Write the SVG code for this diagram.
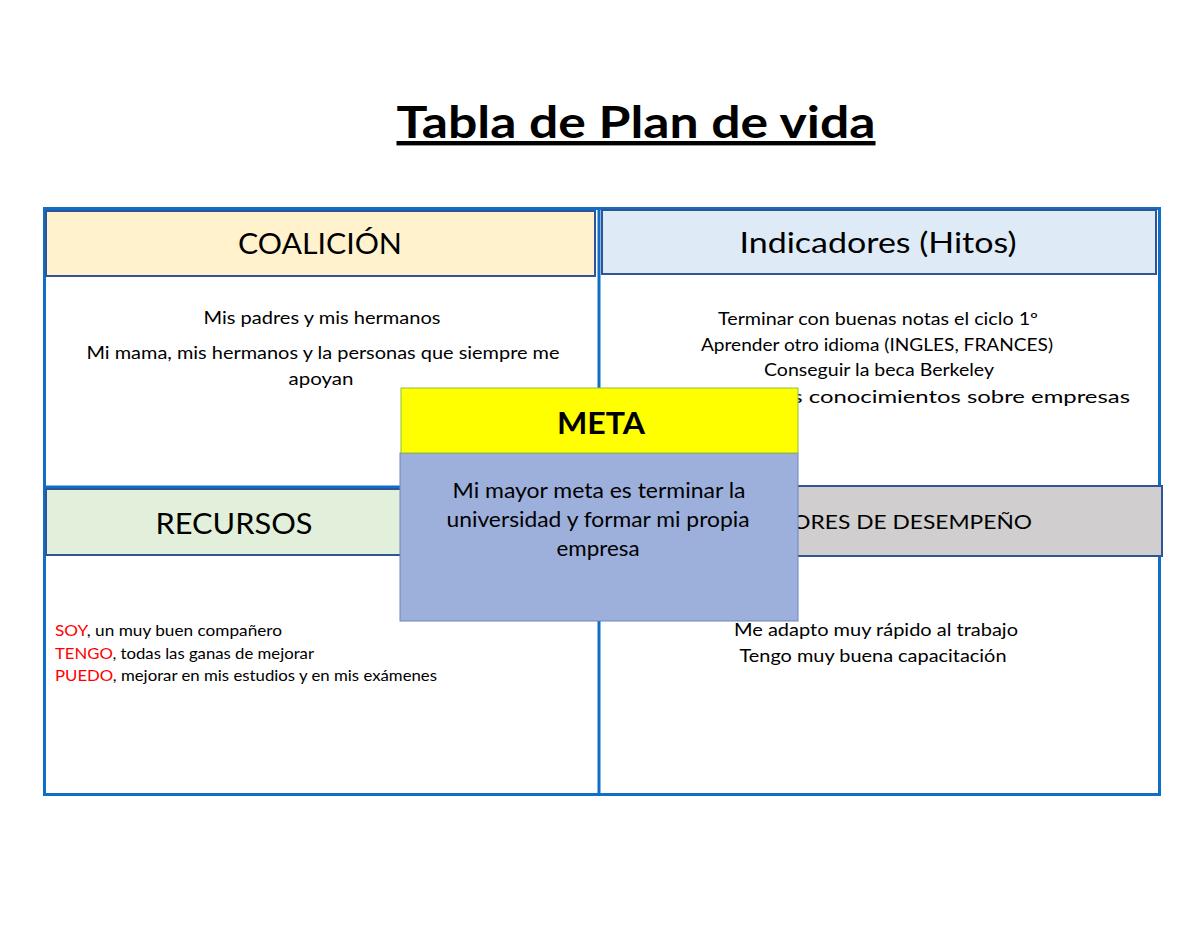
<svg xmlns="http://www.w3.org/2000/svg" width="1200" height="927" viewBox="0 0 1200 927">
<style>
text{font-family:Lato,"Noto Sans",sans-serif;fill:#000}
.h{font-size:28px;text-anchor:middle}
.b{font-size:17px;text-anchor:middle}
.s{font-size:16px}
.r{fill:#ff0000}
.hd{stroke:#2f5597;stroke-width:2}
</style>
<rect x="0" y="0" width="1200" height="927" fill="#fff"/>
<text x="636" y="138" textLength="479" lengthAdjust="spacingAndGlyphs" style="font-size:44px;font-weight:bold;text-anchor:middle;text-decoration:underline">Tabla de Plan de vida</text>
<g id="frame" fill="none" stroke="#0f6fc6" stroke-width="3">
<rect x="44.5" y="208.5" width="1115" height="586"/>
<line x1="599" y1="208" x2="599" y2="795"/>
<line x1="44" y1="487" x2="1160" y2="487"/>
</g>
<g id="coalicion">
<rect class="hd" x="46" y="211" width="549" height="65" fill="#fff2cc"/>
<text class="h" x="320" y="254" textLength="164" lengthAdjust="spacingAndGlyphs">COALICIÓN</text>
<text class="b" x="322" y="324" textLength="237" lengthAdjust="spacingAndGlyphs">Mis padres y mis hermanos</text>
<text class="b" x="323" y="359" textLength="473" lengthAdjust="spacingAndGlyphs">Mi mama, mis hermanos y la personas que siempre me</text>
<text class="b" x="321" y="385" textLength="65" lengthAdjust="spacingAndGlyphs">apoyan</text>
</g>
<g id="indicadores">
<rect class="hd" x="602" y="210" width="554" height="64" fill="#deebf7"/>
<text class="h" x="878" y="253" textLength="277" lengthAdjust="spacingAndGlyphs">Indicadores (Hitos)</text>
<text class="b" x="878" y="325" textLength="320" lengthAdjust="spacingAndGlyphs">Terminar con buenas notas el ciclo 1º</text>
<text class="b" x="877" y="351" textLength="352" lengthAdjust="spacingAndGlyphs">Aprender otro idioma (INGLES, FRANCES)</text>
<text class="b" x="879" y="376" textLength="230" lengthAdjust="spacingAndGlyphs">Conseguir la beca Berkeley</text>
<text class="b" x="877" y="403" textLength="506" lengthAdjust="spacingAndGlyphs">Aprender nuevos conocimientos sobre empresas</text>
</g>
<g id="recursos">
<rect class="hd" x="46" y="489" width="552" height="66" fill="#e2efda"/>
<text class="h" x="234" y="534" textLength="157" lengthAdjust="spacingAndGlyphs">RECURSOS</text>
<text class="s" x="55" y="636" textLength="227" lengthAdjust="spacingAndGlyphs"><tspan class="r">SOY</tspan>, un muy buen compañero</text>
<text class="s" x="55" y="659" textLength="259" lengthAdjust="spacingAndGlyphs"><tspan class="r">TENGO</tspan>, todas las ganas de mejorar</text>
<text class="s" x="55" y="681" textLength="382" lengthAdjust="spacingAndGlyphs"><tspan class="r">PUEDO</tspan>, mejorar en mis estudios y en mis exámenes</text>
</g>
<g id="desempeno">
<rect class="hd" x="600" y="486" width="562" height="70" fill="#d0cece"/>
<text x="1032" y="529" style="font-size:20px;text-anchor:end" textLength="335" lengthAdjust="spacingAndGlyphs">INDICADORES DE DESEMPEÑO</text>
<text class="b" x="876" y="636" textLength="284" lengthAdjust="spacingAndGlyphs">Me adapto muy rápido al trabajo</text>
<text class="b" x="873" y="662" textLength="267" lengthAdjust="spacingAndGlyphs">Tengo muy buena capacitación</text>
</g>
<g id="meta">
<rect x="400" y="453" width="398" height="168" fill="#9dafdb" stroke="#6f84c0" stroke-width="1"/>
<rect x="401" y="388" width="397" height="65" fill="#ffff00" stroke="#8fbf3f" stroke-width="1"/>
<text x="601" y="434" textLength="88" lengthAdjust="spacingAndGlyphs" style="font-size:30px;font-weight:bold;text-anchor:middle">META</text>
<text x="599" y="498" textLength="293" lengthAdjust="spacingAndGlyphs" style="font-size:21px;text-anchor:middle">Mi mayor meta es terminar la</text>
<text x="598" y="527" textLength="303" lengthAdjust="spacingAndGlyphs" style="font-size:21px;text-anchor:middle">universidad y formar mi propia</text>
<text x="598" y="556" textLength="83" lengthAdjust="spacingAndGlyphs" style="font-size:21px;text-anchor:middle">empresa</text>
</g>
</svg>
